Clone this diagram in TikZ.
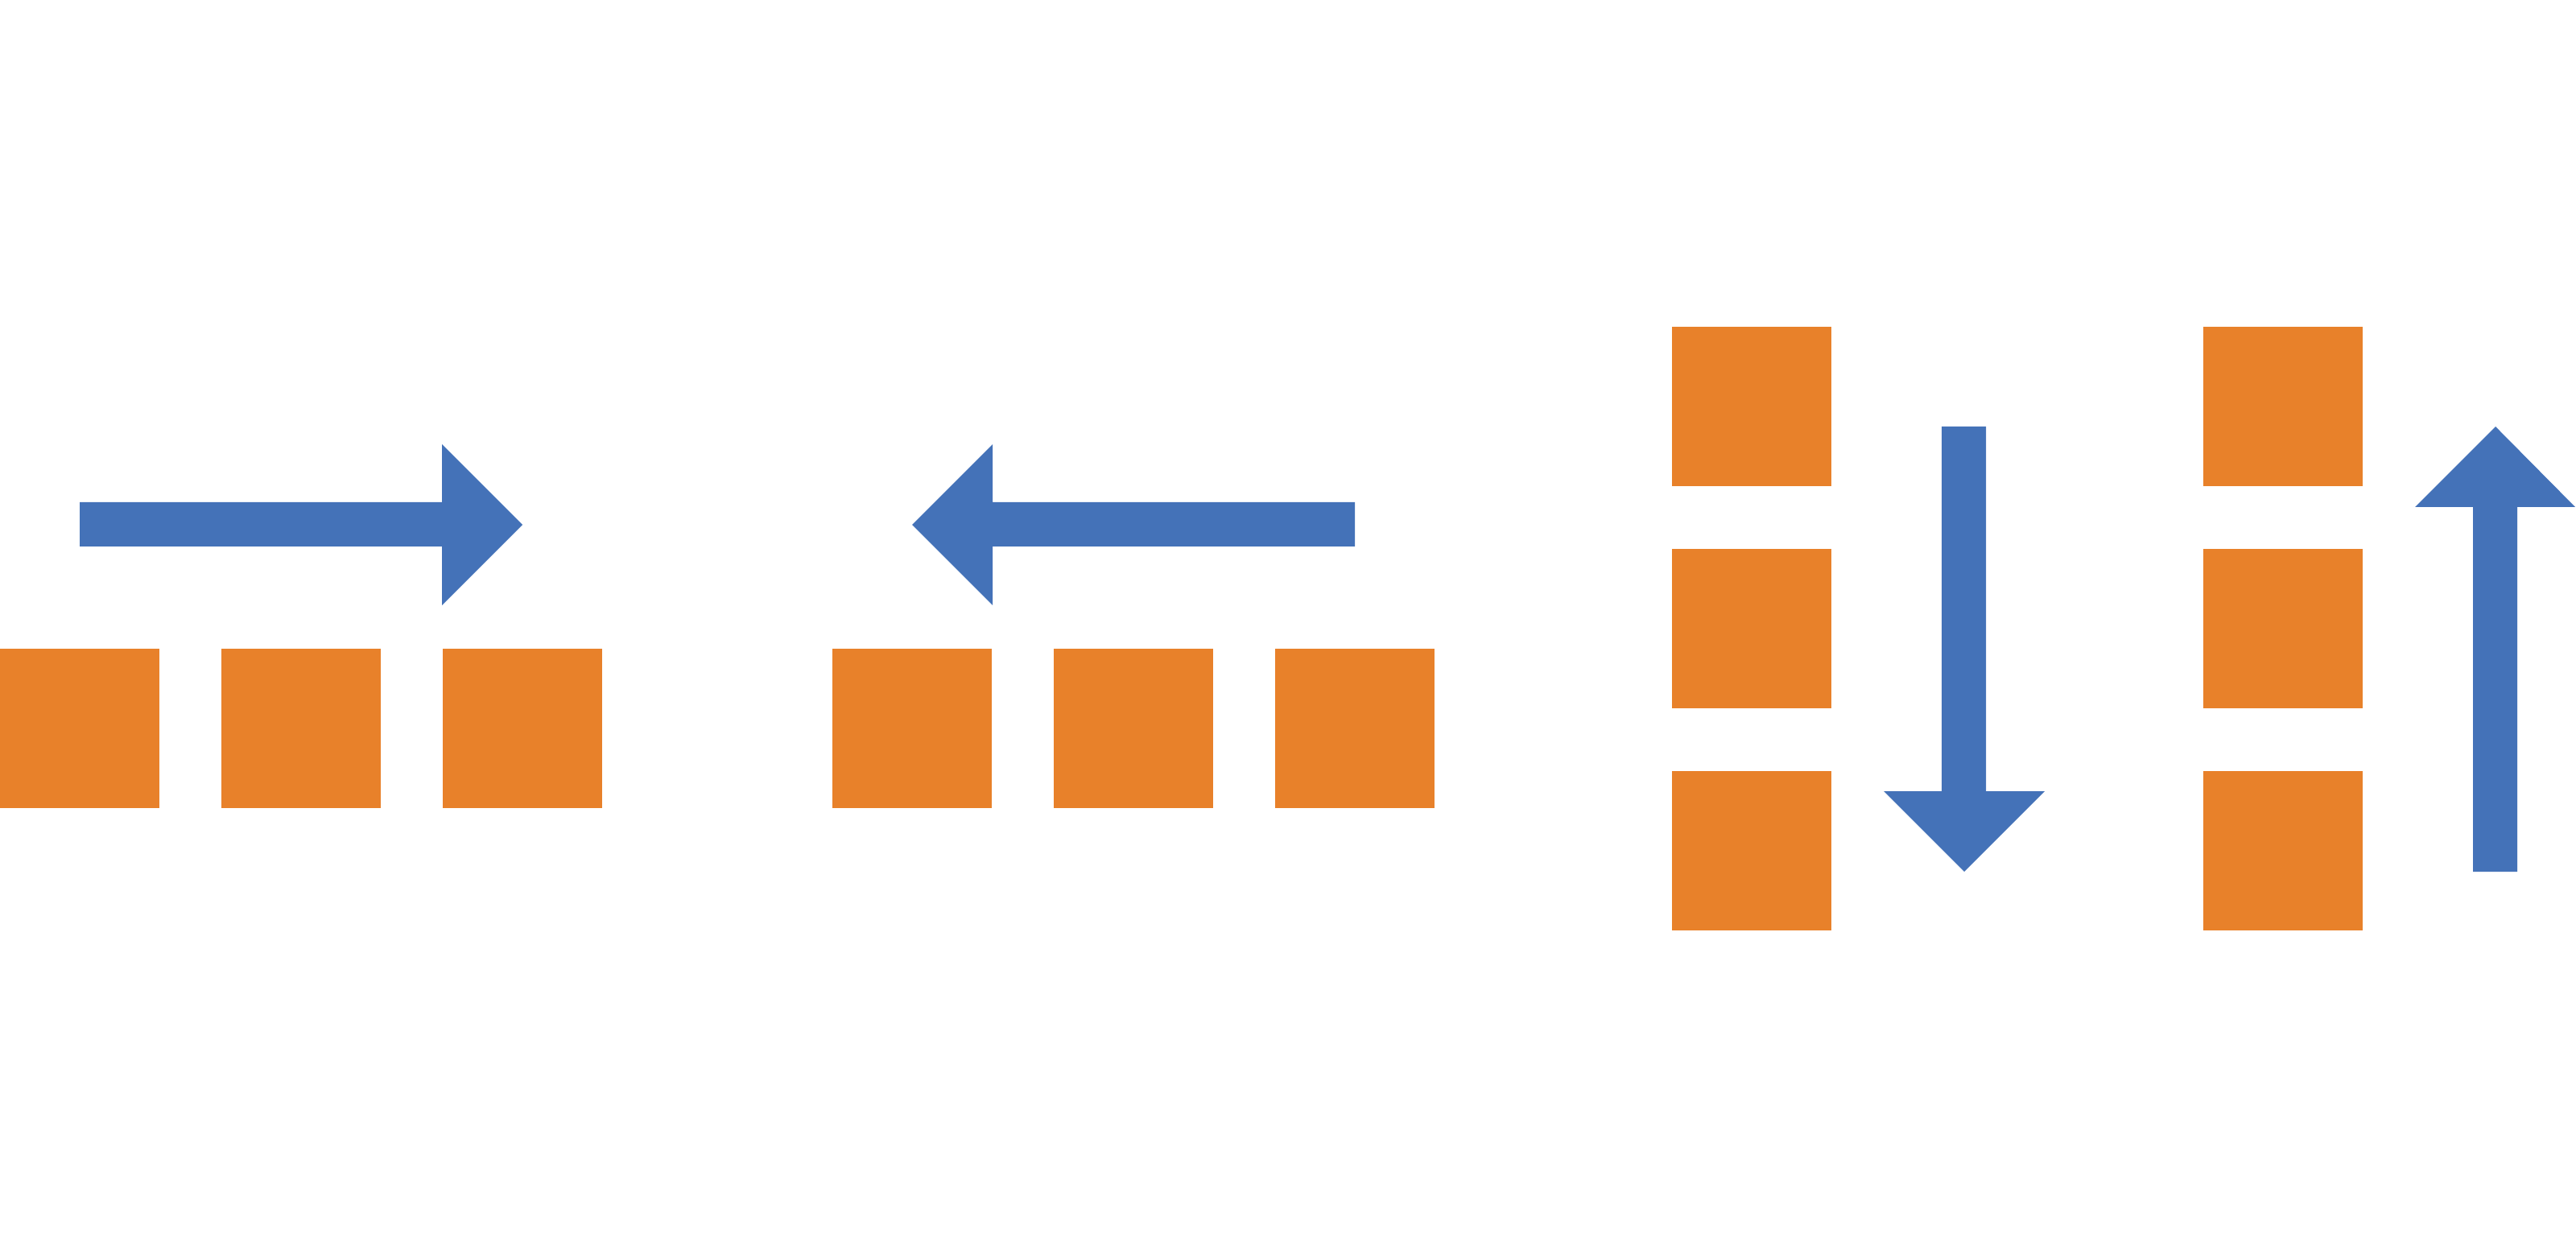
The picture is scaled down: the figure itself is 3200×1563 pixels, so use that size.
\documentclass[tikz,border=0pt]{standalone}
\definecolor{sq}{HTML}{E8812A}
\definecolor{ar}{HTML}{4472B8}
\begin{document}
\begin{tikzpicture}[x=0.005cm,y=-0.005cm,
  box/.style={fill=sq,draw=none,minimum width=0.99cm,minimum height=0.99cm,inner sep=0,outer sep=0,anchor=north west},
  arr/.style={fill=ar,draw=none}]
\useasboundingbox (0,0) rectangle (3200,1563);
% row 1
\node[box] (a1) at (0,806) {};
\node[box] (a2) at (275,806) {};
\node[box] (a3) at (550,806) {};
\fill[arr] (99,624) -- (549,624) -- (549,552) -- (649,652) -- (549,752) -- (549,679) -- (99,679) -- cycle;
% row 2
\node[box] (b1) at (1034,806) {};
\node[box] (b2) at (1309,806) {};
\node[box] (b3) at (1584,806) {};
\fill[arr] (1683,624) -- (1233,624) -- (1233,552) -- (1133,652) -- (1233,752) -- (1233,679) -- (1683,679) -- cycle;
% column 3
\node[box] (c1) at (2077,406) {};
\node[box] (c2) at (2077,682) {};
\node[box] (c3) at (2077,958) {};
\fill[arr] (2412,530) -- (2467,530) -- (2467,983) -- (2540,983) -- (2440,1083) -- (2340,983) -- (2412,983) -- cycle;
% column 4
\node[box] (d1) at (2737,406) {};
\node[box] (d2) at (2737,682) {};
\node[box] (d3) at (2737,958) {};
\fill[arr] (3072,1083) -- (3127,1083) -- (3127,630) -- (3199,630) -- (3100,530) -- (3000,630) -- (3072,630) -- cycle;
\end{tikzpicture}
\end{document}
